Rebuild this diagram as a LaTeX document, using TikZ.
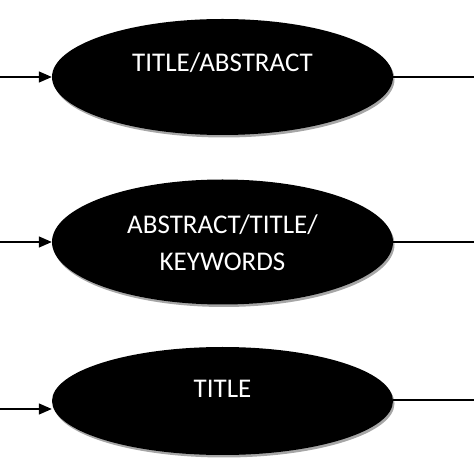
\documentclass[tikz,border=0pt]{standalone}
\usepackage{fontspec}
\setmainfont{Carlito}
\usetikzlibrary{shapes.geometric,shadows,arrows.meta}
\begin{document}
\begin{tikzpicture}[x=1pt,y=1pt,
  oval/.style={ellipse, fill=black, inner sep=0pt, minimum width=341pt,
    drop shadow={shadow xshift=1.5pt, shadow yshift=-2.5pt, fill=gray!70, opacity=1}},
  lbl/.style={text=white, font=\fontsize{27}{37}\selectfont, align=center},
  conn/.style={line width=1.4pt},
  arr/.style={conn, -{Triangle[length=13pt,width=11pt]}}]
\useasboundingbox (0,0) rectangle (474,474);
\node[oval, minimum height=116pt,
  label={[lbl, yshift=14pt]center:TITLE/ABSTRACT}] (e1) at (222.5,397) {};
\node[oval, minimum height=125pt,
  label={[lbl, yshift=-1pt]center:ABSTRACT/TITLE/\\KEYWORDS}] (e2) at (222.5,232) {};
\node[oval, minimum height=108pt,
  label={[lbl, yshift=12pt]center:TITLE}] (e3) at (222.5,73) {};
\coordinate (l1) at (0,397);
\coordinate (r1) at (474,397);
\coordinate (l2) at (0,232);
\coordinate (r2) at (474,232);
\coordinate (l3) at (0,65);
\coordinate (r3) at (474,74);
\draw[arr] (l1) -- (e1.west);
\draw[conn] (e1.east) -- (r1);
\draw[arr] (l2) -- (e2.west);
\draw[conn] (e2.east) -- (r2);
\draw[arr] (l3) -- (l3 -| e3.west);
\draw[conn] (e3.east |- r3) -- (r3);
\end{tikzpicture}
\end{document}
